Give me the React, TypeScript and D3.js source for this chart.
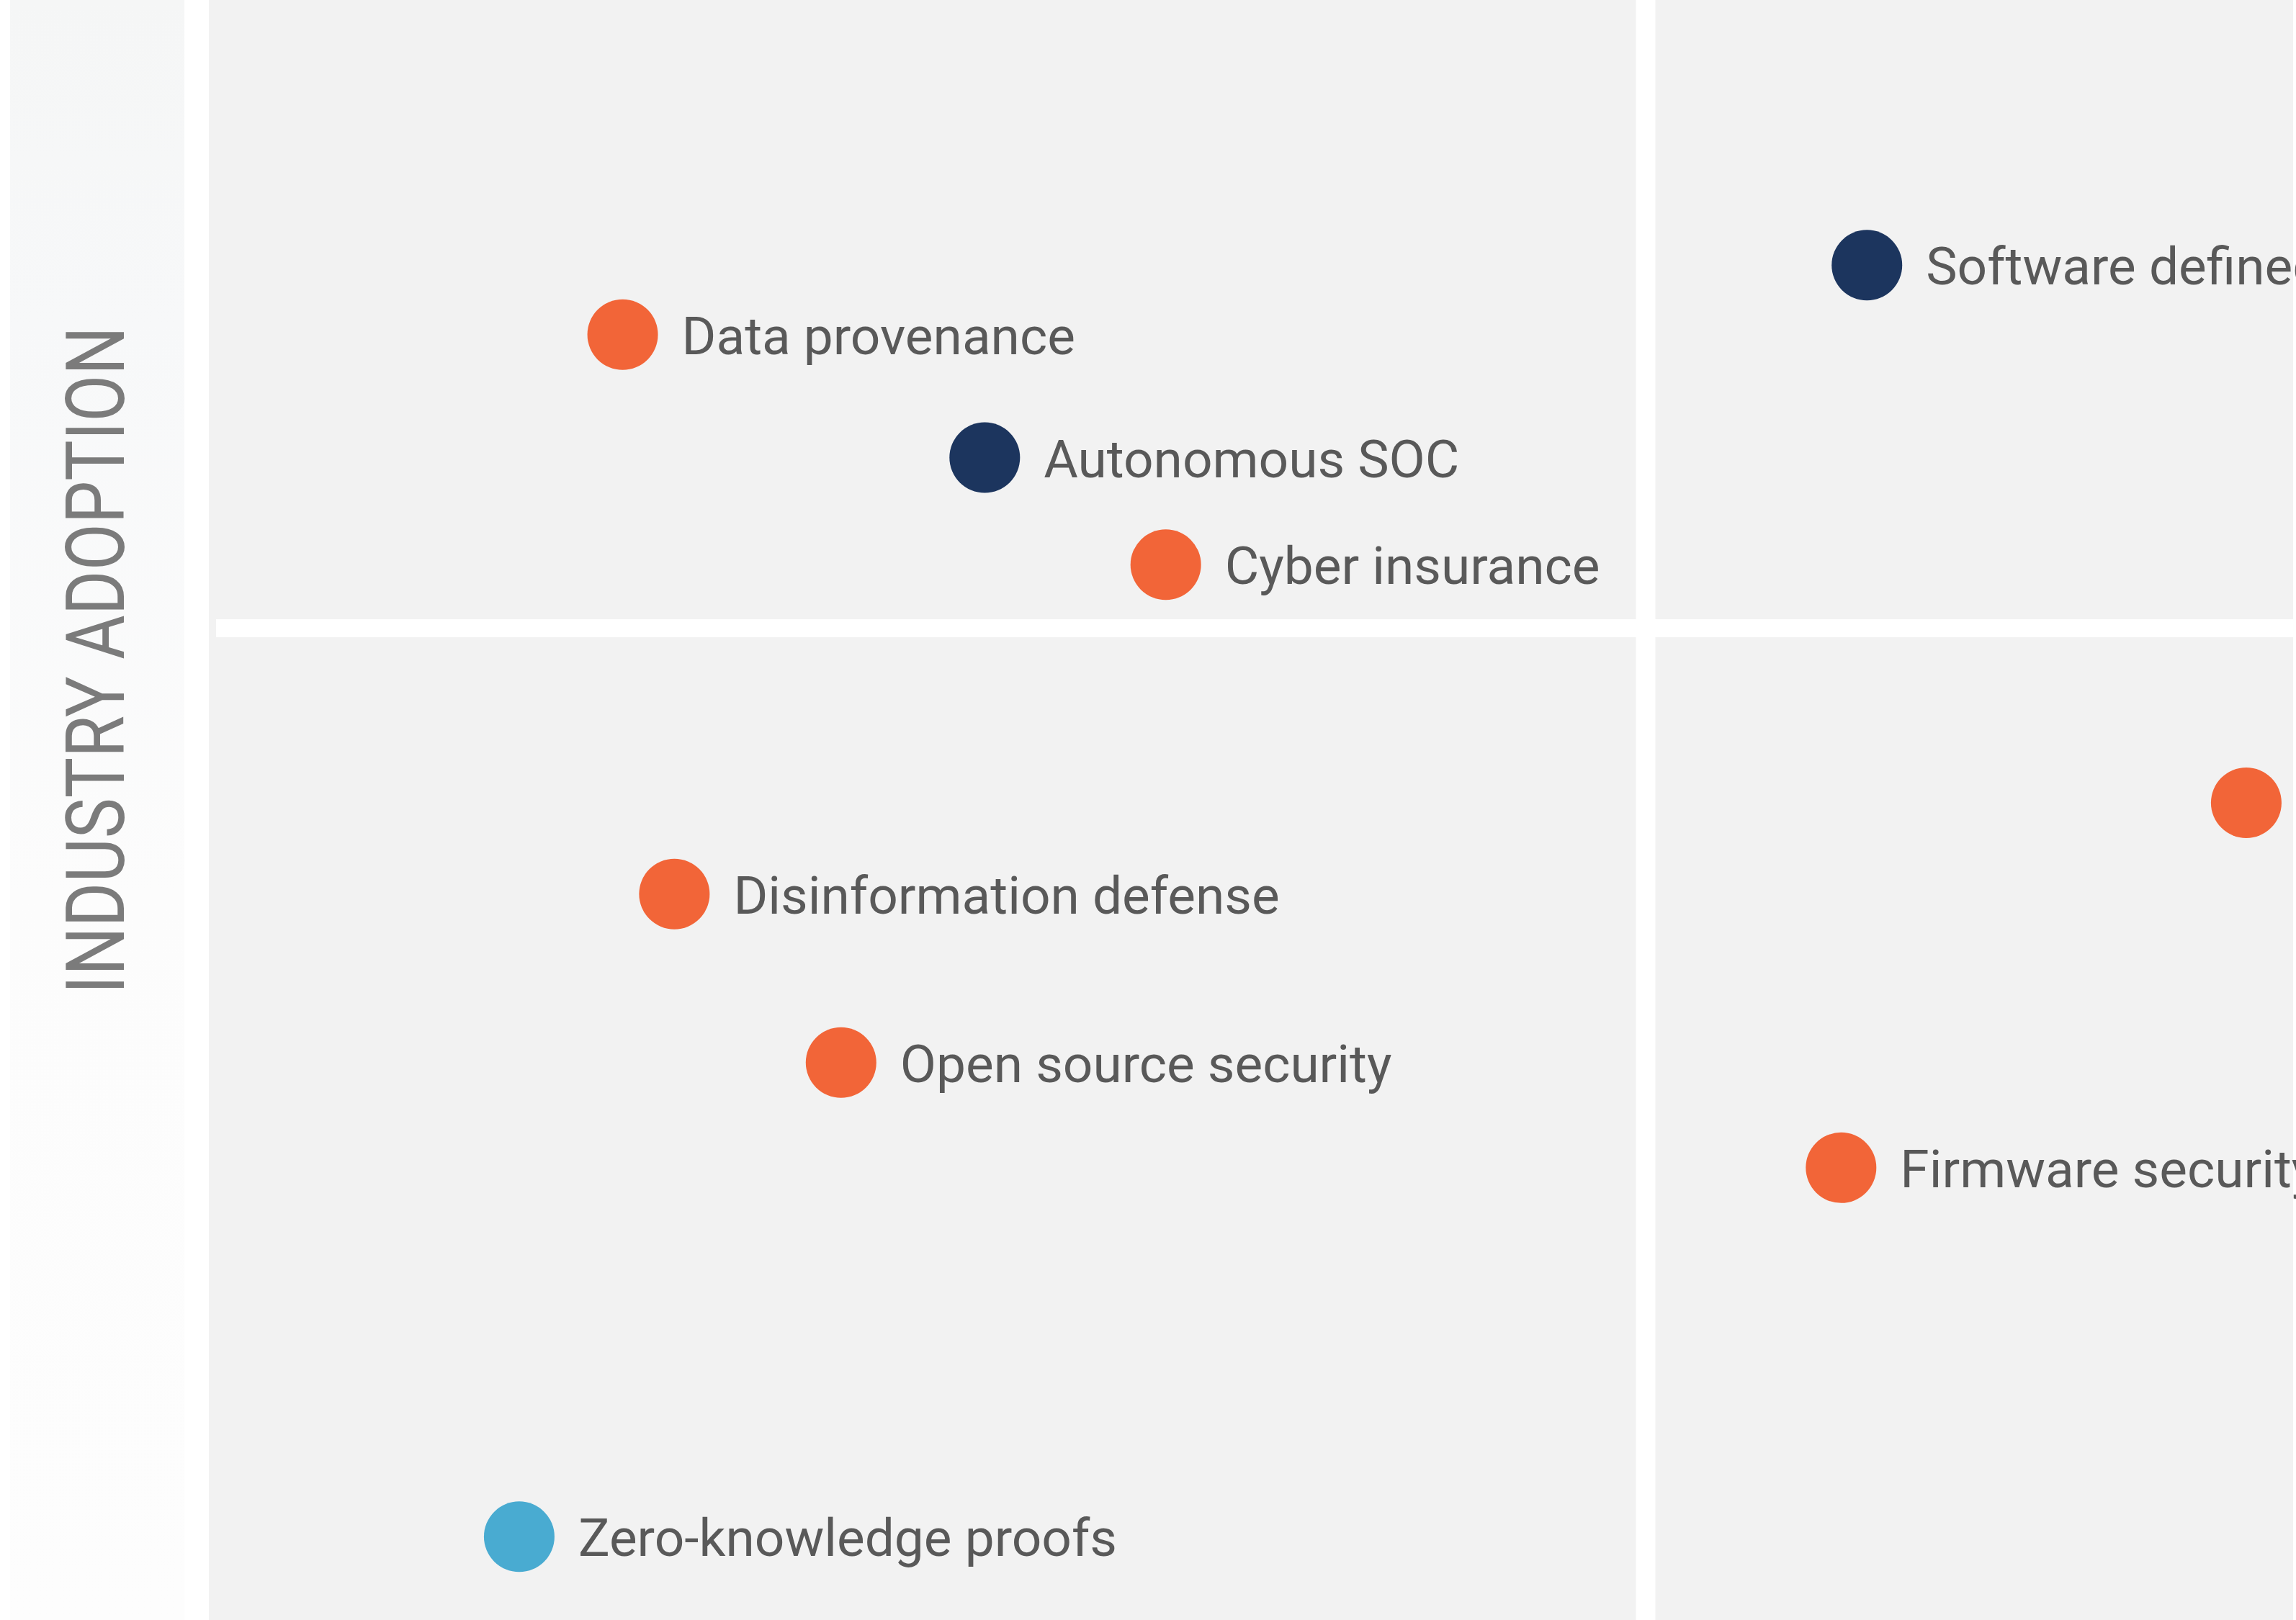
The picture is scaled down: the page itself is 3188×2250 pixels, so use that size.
import React, { useEffect, useRef } from 'react';
import * as d3 from 'd3';

// Technologies on the adoption matrix (x: maturity-ish axis, y: industry adoption)
const names = [
  'Data provenance',
  'Autonomous SOC',
  'Cyber insurance',
  'Software defined perimeter',
  '',
  'Disinformation defense',
  'Open source security',
  'Firmware security',
  'Zero-knowledge proofs',
];
const xValues = [1.44, 2.70, 3.33, 5.77, 7.09, 1.62, 2.20, 5.68, 1.08];
const yValues = [6.48, 5.86, 5.32, 6.83, 4.12, 3.66, 2.81, 2.28, 0.42];
const groups = ['orange', 'navy', 'orange', 'navy', 'orange', 'orange', 'orange', 'orange', 'blue'];

const groupKeys = ['orange', 'navy', 'blue'];
const groupColors = ['#f26538', '#1c355e', '#49abd1'];

const axisTitle = 'INDUSTRY ADOPTION';

const App: React.FC = () => {
  const svgRef = useRef<SVGSVGElement>(null);

  useEffect(() => {
    if (!svgRef.current) return;
    document.body.style.margin = '0';

    const width = 3188;
    const height = 2250;

    d3.select(svgRef.current).selectAll('*').remove();

    const svg = d3.select(svgRef.current)
      .attr('width', width)
      .attr('height', height)
      .style('font-family', 'Roboto, sans-serif');

    const left = 290;
    const xMidPx = 2285;
    const yMidPx = 872.5;

    // the matrix is cropped on the right and top, the midpoint sits at 5
    const x = d3.scaleLinear().domain([0, 10]).range([left, left + 2 * (xMidPx - left)]);
    const y = d3.scaleLinear().domain([0, 10]).range([height, height - 2 * (height - yMidPx)]);
    const color = d3.scaleOrdinal<string, string>().domain(groupKeys).range(groupColors);

    // faint band behind the axis title
    const grad = svg.append('defs').append('linearGradient')
      .attr('id', 'band')
      .attr('x1', 0).attr('y1', 0).attr('x2', 0).attr('y2', 1);
    grad.append('stop').attr('offset', '0%').attr('stop-color', '#f5f6f6');
    grad.append('stop').attr('offset', '20%').attr('stop-color', '#f7f8f9');
    grad.append('stop').attr('offset', '55%').attr('stop-color', '#fcfcfc');
    grad.append('stop').attr('offset', '100%').attr('stop-color', '#fdfdfd');

    svg.append('rect')
      .attr('x', 14).attr('y', 0)
      .attr('width', 242).attr('height', height)
      .attr('fill', 'url(#band)');

    // quadrants
    const gapX = 13.5;
    const gapY = 12.5;
    const right = 3184;
    const xm = x(5);
    const ym = y(5);
    const quads = [
      [left, 0, xm - gapX, ym - gapY],
      [xm + gapX, 0, right, ym - gapY],
      [left, ym + gapY, xm - gapX, height],
      [xm + gapX, ym + gapY, right, height],
    ];
    svg.append('g')
      .selectAll('rect')
      .data(quads)
      .enter()
      .append('rect')
      .attr('x', d => d[0])
      .attr('y', d => d[1])
      .attr('width', d => d[2] - d[0])
      .attr('height', d => d[3] - d[1])
      .attr('fill', '#f2f2f2');

    // the white divider starts a little inside the left edge
    svg.append('rect')
      .attr('x', left).attr('y', ym - gapY)
      .attr('width', 10).attr('height', gapY * 2)
      .attr('fill', '#f2f2f2');

    // axis title
    svg.append('text')
      .attr('transform', `translate(172,917) rotate(-90)`)
      .attr('text-anchor', 'middle')
      .attr('textLength', 927)
      .attr('lengthAdjust', 'spacingAndGlyphs')
      .attr('fill', '#7b7b7b')
      .style('font-size', '113px')
      .text(axisTitle);

    const data = names.map((name, i) => ({
      name,
      x: xValues[i],
      y: yValues[i],
      group: groups[i],
    }));

    const pts = svg.append('g')
      .selectAll('g')
      .data(data)
      .enter()
      .append('g');

    pts.append('circle')
      .attr('cx', d => x(d.x))
      .attr('cy', d => y(d.y))
      .attr('r', 49)
      .attr('fill', d => color(d.group));

    pts.append('text')
      .attr('x', d => x(d.x) + 82)
      .attr('y', d => y(d.y) + 27)
      .attr('fill', '#595959')
      .style('font-size', '73px')
      .text(d => d.name);
  }, []);

  return (
    <div>
      <svg ref={svgRef} style={{ display: 'block', position: 'absolute', left: 0, top: 0 }}></svg>
    </div>
  );
};

export default App;
